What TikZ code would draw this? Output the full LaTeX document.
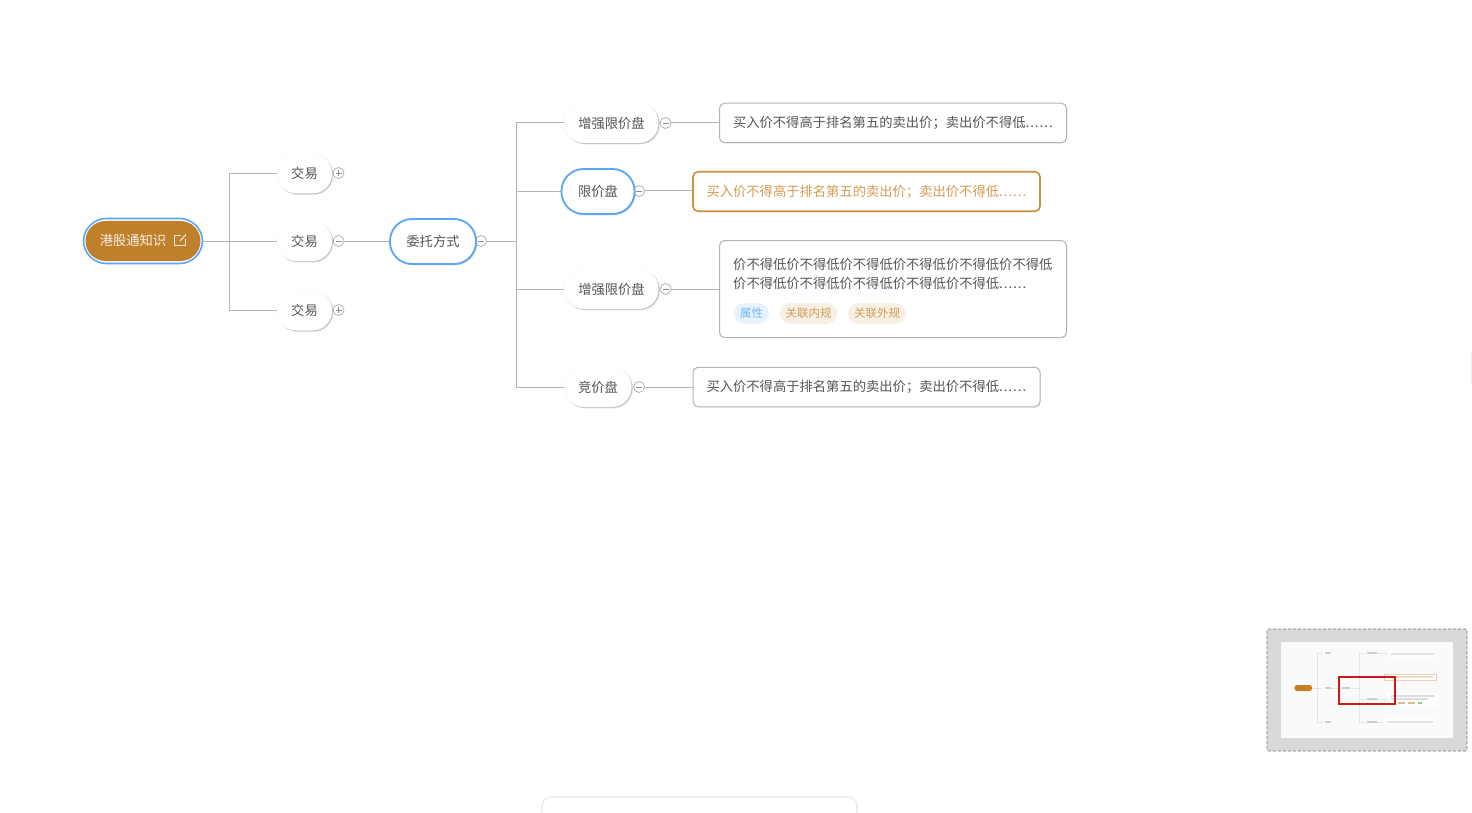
\documentclass[tikz,border=0pt]{standalone}
\usepackage{fontspec}
\setmainfont{Noto Sans CJK SC}
\usetikzlibrary{shadows,calc}
\pgfdeclarelayer{back}
\pgfsetlayers{back,main}
\definecolor{txt}{HTML}{555555}
\definecolor{linec}{HTML}{B4B4B4}
\definecolor{blu}{HTML}{5BA6F6}
\definecolor{brn}{HTML}{BF802B}
\definecolor{org}{HTML}{CB8F42}
\definecolor{orgt}{HTML}{D29C55}
\definecolor{chipb}{HTML}{E8F3FF}
\definecolor{chipo}{HTML}{F8F0E5}
\definecolor{mini}{HTML}{D9D9D9}
\definecolor{minired}{HTML}{D01818}
\newcommand{\ellip}{.\kern1pt.\kern1pt.\kern1pt.\kern1pt.\kern1pt.}
\newcommand{\low}[1]{\raisebox{-2pt}{#1}}
\tikzset{
  softshadow/.style={
    drop shadow={shadow xshift=0pt,shadow yshift=0pt,shadow scale=1.03,opacity=.025,fill=black},
    drop shadow={shadow xshift=1.6pt,shadow yshift=-1.6pt,opacity=.06,fill=black},
    drop shadow={shadow xshift=1.1pt,shadow yshift=-1.1pt,opacity=.09,fill=black},
    drop shadow={shadow xshift=.6pt,shadow yshift=-.6pt,opacity=.12,fill=black}},
  basetext/.style={font=\fontsize{13.3}{19}\selectfont,text=txt,inner sep=0pt},
  pill/.style={basetext,rectangle,rounded corners=19.5pt,fill=white,minimum height=40pt,softshadow},
  bluepill/.style={basetext,rectangle,rounded corners=22pt,fill=white,draw=blu,line width=1.8pt,minimum height=45pt,softshadow},
  notebox/.style={basetext,rectangle,rounded corners=5pt,fill=white,draw=linec,line width=1pt,
     minimum height=39.5pt,text width=320pt,inner xsep=13.5pt,align=left,
     drop shadow={shadow xshift=.6pt,shadow yshift=-.6pt,opacity=.12,fill=black}},
  hotbox/.style={notebox,draw=org,line width=1.6pt,text=orgt},
  wire/.style={draw=linec,line width=1pt},
  foldc/.style={circle,draw=linec,fill=white,line width=.8pt,minimum size=11pt,inner sep=0pt},
  foldminus/.style={foldc,path picture={\draw[line width=.7pt,black!45]
     ([xshift=-3pt]path picture bounding box.center) -- ([xshift=3pt]path picture bounding box.center);}},
  foldplus/.style={foldc,path picture={\draw[line width=.7pt,black!45]
     ([xshift=-3pt]path picture bounding box.center) -- ([xshift=3pt]path picture bounding box.center)
     ([yshift=-3pt]path picture bounding box.center) -- ([yshift=3pt]path picture bounding box.center);}},
  chip/.style={rectangle,rounded corners=10.5pt,minimum height=21pt,inner sep=0pt,font=\fontsize{11.5}{14}\selectfont},
  minibar/.style={fill=black!45,opacity=.4,draw=none},
}
\begin{document}
\begin{tikzpicture}[x=1pt,y=-1pt]
\useasboundingbox (0,0) rectangle (1472,813);
\clip (0,0) rectangle (1472,813);
\begin{pgfonlayer}{back}
  \fill[white] (0,0) rectangle (1472,813);
\end{pgfonlayer}

% faint panels at the page edges
\fill[black!6] (1471,352) rectangle (1472,384);
\draw[black!7,line width=1.6pt,rounded corners=9pt,fill=white] (542,830) -- (542,797) -- (857,797) -- (857,830);

% fold circles
\node[foldplus]  (f1) at (338.5,173) {};
\node[foldminus] (f2) at (338.5,241) {};
\node[foldplus]  (f3) at (338.5,310) {};
\node[foldminus] (f4) at (481,241) {};
\node[foldminus] (f5) at (665.5,123) {};
\node[foldminus] (f6) at (639,191) {};
\node[foldminus] (f7) at (665.5,289) {};
\node[foldminus] (f8) at (639,387) {};

% root
\node[rectangle,rounded corners=23pt,fill=white,draw=blu,line width=1.6pt,minimum width=119pt,minimum height=45pt,inner sep=0pt,
      drop shadow={shadow xshift=.6pt,shadow yshift=-.6pt,opacity=.1,fill=black}] (rootring) at (143,241) {};
\node[rectangle,rounded corners=20pt,fill=brn,minimum width=115pt,minimum height=40pt,inner sep=0pt] (root) at (143,241) {};
\node[basetext,text=white!88!brn] (roottext) at (133,240.5) {港股通知识};
\draw[white!80!brn,line width=.8pt] (185.5,239) -- (185.5,245.5) -- (174.5,245.5) -- (174.5,235) -- (180.5,235);
\draw[white!85!brn,line width=1pt] (180,241) -- (186,234.5);

% first level
\node[pill,minimum width=55pt] (a1) at (304.5,173.5) {交易};
\node[pill,minimum width=55pt] (a2) at (304.5,241) {交易};
\node[pill,minimum width=55pt] (a3) at (304.5,310.5) {交易};
\node[bluepill,minimum width=86pt] (m) at (433,241.5) {\raisebox{-1pt}{委托方式}};

% second level
\node[pill,minimum width=94pt] (b1) at (611.5,123) {增强限价盘};
\node[bluepill,minimum width=73pt] (b2) at (598,191.5) {\raisebox{-.5pt}{限价盘}};
\node[pill,minimum width=94pt] (b3) at (611.5,289) {增强限价盘};
\node[pill,minimum width=67pt] (b4) at (598,387) {竞价盘};

% text boxes
\node[notebox] (n1) at (893,123) {\low{买入价不得高于排名第五的卖出价；卖出价不得低\ellip}};
\node[hotbox] (n2) at (866.5,191.5) {\low{买入价不得高于排名第五的卖出价；卖出价不得低\ellip}};
\node[notebox,minimum height=97pt] (n3) at (893,289) {};
\node[basetext,anchor=north west,text width=322pt,align=left,font=\fontsize{13.3}{19}\selectfont] (n3t) at (733,258.5)
   {价不得低价不得低价不得低价不得低价不得低价不得低\\价不得低价不得低价不得低价不得低价不得低\ellip};
\node[chip,fill=chipb,text=blu!85!white,minimum width=35pt] (c1) at (751.5,313.5) {属性};
\node[chip,fill=chipo,text=orgt,minimum width=57pt] (c2) at (808.5,313.5) {关联内规};
\node[chip,fill=chipo,text=orgt,minimum width=58pt] (c3) at (877,313.5) {关联外规};
\node[notebox] (n4) at (866.5,387) {\low{买入价不得高于排名第五的卖出价；卖出价不得低\ellip}};

% connectors
\coordinate (sp1) at (229,241);
\coordinate (sp2) at (516,241);
\begin{pgfonlayer}{back}
  \draw[wire] (rootring.east) -- (a2.west);
  \draw[wire] (sp1) |- (a1.west);
  \draw[wire] (sp1) |- (a3.west);
  \draw[wire] (f2.east) -- (f2.east -| m.west);
  \draw[wire] (f4.east) -- (sp2);
  \draw[wire] (sp2) |- (b1.west);
  \draw[wire] (sp2) |- (b2.west);
  \draw[wire] (sp2) |- (b3.west);
  \draw[wire] (sp2) |- (b4.west);
  \draw[wire] (f5.east) -- (n1.west);
  \draw[wire] (f6.east) -- (f6.east -| n2.west);
  \draw[wire] (f7.east) -- (n3.west);
  \draw[wire] (f8.east) -- (n4.west);
\end{pgfonlayer}

% minimap
\draw[black!55,densely dashed,line width=.8pt,fill=mini,rounded corners=2pt] (1267,629) rectangle (1467,751);
\fill[black!2] (1281,642) rectangle (1453,738);
\draw[black!10,line width=.5pt] (1312,688) -- (1322,688) (1317,653) -- (1317,722) (1317,653) -- (1323,653) (1317,722) -- (1323,722)
   (1331,688) -- (1341,688) (1351,688) -- (1359,688) (1359,653) -- (1359,722)
   (1359,653) -- (1366,653) (1359,676) -- (1366,676) (1359,699) -- (1366,699) (1359,722) -- (1366,722)
   (1377,653) -- (1388,653) (1375,676) -- (1384,676) (1377,699) -- (1388,699) (1375,722) -- (1384,722);
\fill[brn!85!orange,rounded corners=2.5pt] (1294.5,685) rectangle (1312,691);
\fill[white] (1388,651) rectangle (1438,657);
\fill[white] (1388,693) rectangle (1438,707);
\fill[white] (1384,719) rectangle (1436,725);
\draw[org!40,line width=.4pt,fill=white] (1384,674) rectangle (1436,680);
\foreach \yy in {653,688,722} \fill[minibar] (1325,\yy-1) rectangle (1331,\yy+1);
\fill[minibar] (1342,687) rectangle (1350,689);
\foreach \yy in {653,699,722} \fill[minibar] (1367,\yy-1) rectangle (1377,\yy+1);
\fill[minibar,opacity=.25] (1391,653) rectangle (1435,655);
\fill[orgt,opacity=.35] (1387,676) rectangle (1433,678);
\fill[minibar,opacity=.25] (1387,721) rectangle (1433,723);
\fill[minibar,opacity=.3] (1391,694.5) rectangle (1435,696.5);
\fill[minibar,opacity=.3] (1391,697.5) rectangle (1428,699.5);
\fill[orgt,opacity=.7] (1398,702) rectangle (1405,704);
\fill[orgt,opacity=.7] (1408,702) rectangle (1415,704);
\fill[green!70!black,opacity=.5] (1418,702) rectangle (1422,704);
\draw[minired,line width=2pt] (1339,677) rectangle (1395,703.5);
\end{tikzpicture}
\end{document}
